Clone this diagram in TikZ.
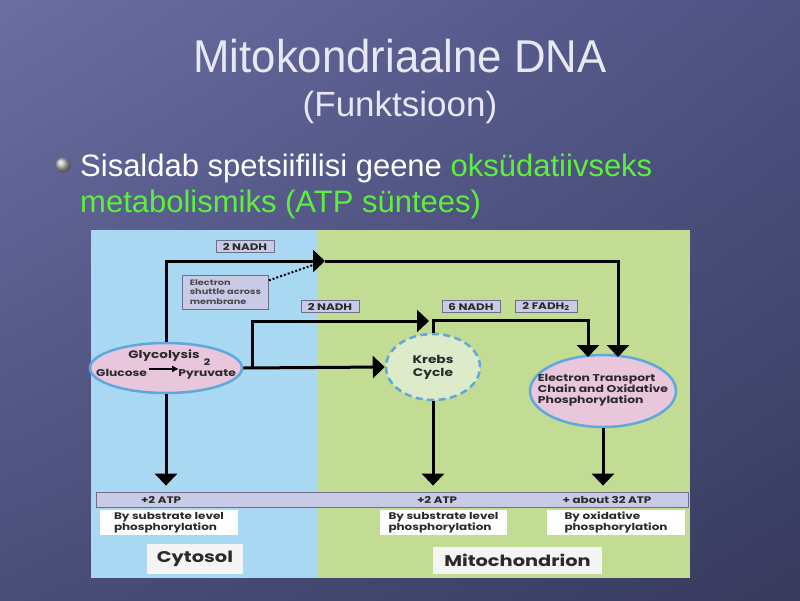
\documentclass[tikz,border=0pt]{standalone}
\usepackage{fontspec}
\setmainfont{Liberation Sans}
\newfontfamily\titlefont[FakeStretch=0.95]{Liberation Sans}
\newfontfamily\diagfont[FakeStretch=1.25]{Poppins}
\usetikzlibrary{arrows.meta, shapes.geometric, shadings}
\usepackage{xcolor}

\definecolor{slidetl}{HTML}{6A6EA2}
\definecolor{slidetr}{HTML}{4E5282}
\definecolor{slidebl}{HTML}{4A4D78}
\definecolor{slidebr}{HTML}{383B5E}
\definecolor{titlecol}{HTML}{E8E8F4}
\definecolor{bulletgreen}{HTML}{5CF03A}
\definecolor{cytoblue}{HTML}{A9D8F2}
\definecolor{mitogreen}{HTML}{C3DC93}
\definecolor{ovalpink}{HTML}{E8C6DC}
\definecolor{ovalline}{HTML}{5FA8DC}
\definecolor{krebsfill}{HTML}{DDEBCB}
\definecolor{labelfill}{HTML}{C9CBE6}
\definecolor{labelline}{HTML}{6E6E8C}
\definecolor{inktext}{HTML}{2A2A2A}

\begin{document}
\begin{tikzpicture}[x=1pt, y=-1pt, every node/.style={inner sep=0pt, text=inktext},
  lbl/.style={draw=labelline, fill=labelfill, line width=0.8pt, minimum width=58, minimum height=12,
    font=\diagfont\bfseries\fontsize{9.5}{10}\selectfont},
  atptext/.style={font=\diagfont\bfseries\fontsize{9.5}{10}\selectfont},
  whitebox/.style={fill=white, minimum height=25, align=left,
    font=\diagfont\bfseries\fontsize{9.6}{11}\selectfont},
  placebox/.style={fill=white!92!gray, font=\diagfont\bfseries\fontsize{15.5}{17}\selectfont},
  oval/.style={ellipse, draw=ovalline, fill=ovalpink, line width=2.5pt},
  line/.style={line width=3pt},
  arr/.style={line width=3pt, -{Triangle[width=22pt,length=12pt]}}]

\useasboundingbox (0,0) rectangle (800,600);
\shade[upper left=slidetl, upper right=slidetr, lower left=slidebl, lower right=slidebr]
  (0,0) rectangle (800,600);

% Title
\node[anchor=base, text=titlecol, font=\titlefont\fontsize{46}{50}\selectfont] (title) at (400,72) {Mitokondriaalne DNA};
\node[anchor=base, text=titlecol, font=\fontsize{35}{40}\selectfont] (subtitle) at (400,116) {(Funktsioon)};

% Bullet text
\shade[ball color=gray!55] (63,165) circle (7.5);
\node[anchor=base west, text=white, font=\fontsize{31}{36}\selectfont] (line1) at (80,176)
  {Sisaldab spetsiifilisi geene \textcolor{bulletgreen}{oksüdatiivseks}};
\node[anchor=base west, text=bulletgreen, font=\fontsize{31}{36}\selectfont] (line2) at (80,212)
  {metabolismiks (ATP süntees)};

% Panels
\fill[cytoblue] (91,230) rectangle (318,578);
\fill[mitogreen] (318,230) rectangle (690,578);

% Glycolysis
\node[oval, minimum width=152, minimum height=50] (glyc) at (166,368) {};
\node[font=\diagfont\bfseries\fontsize{10.8}{12}\selectfont] (glyctitle) at (164,356) {Glycolysis};
\node[anchor=base west, font=\diagfont\bfseries\fontsize{9.8}{11}\selectfont] (glucose) at (96,376) {Glucose};
\node[anchor=base east, font=\diagfont\bfseries\fontsize{9.8}{11}\selectfont] (pyruvate) at (236,376) {Pyruvate};
\node[font=\diagfont\bfseries\fontsize{9}{10}\selectfont] (two) at (207,362) {2};
\draw[line width=1.3pt, -{Triangle[width=6pt,length=6pt]}] (glucose.east) ++(2,-3.5) coordinate (ga) -- (pyruvate.west |- ga);

% Krebs cycle
\node[ellipse, draw=ovalline, fill=krebsfill, line width=2.5pt, dashed, dash pattern=on 7pt off 4.5pt,
  minimum width=94, minimum height=66, align=center,
  font=\diagfont\bfseries\fontsize{11}{13}\selectfont] (krebs) at (433,367) {Krebs\\Cycle};

% Electron transport chain
\node[oval, minimum width=146, minimum height=72] (etc) at (603,391) {};
\node[align=left, font=\diagfont\bfseries\fontsize{9.9}{11.2}\selectfont] (etctext) at (603,390)
  {Electron Transport\\Chain and Oxidative\\Phosphorylation};

% Labels
\node[lbl] (nadh1) at (245,246.5) {2 NADH};
\node[lbl] (nadh2) at (330,306.5) {2 NADH};
\node[lbl] (nadh6) at (471,306.5) {6 NADH};
\node[lbl, minimum width=62] (fadh) at (546,306.5) {2 FADH\textsubscript{2}};
\node[draw=labelline, fill=labelfill, line width=0.8pt, minimum width=86, minimum height=34, align=left,
  inner xsep=6pt, anchor=west, text=inktext!85, font=\diagfont\bfseries\fontsize{7.8}{9.5}\selectfont] (shuttle) at (182,292)
  {Electron\\shuttle across\\membrane};

% Connectors
\coordinate (nadhtip) at (325,261);
\coordinate (etcin1) at (588,357);
\coordinate (etcin2) at (618,357);
\coordinate (branch) at (252,368);
\coordinate (krebsin) at (429,321);
\coordinate (dotend) at (313,265);

\draw[arr] (glyc.north) |- (nadhtip);
\draw[arr] (nadhtip) -| (etcin2);
\draw[line width=2pt, dotted] (shuttle.15) -- (dotend);
\draw[arr] (glyc.east) -- (krebs.west);
\draw[arr] (branch) |- (krebsin);
\draw[arr] (krebs.north) -- ++(0,-12) -| (etcin1);

% ATP bar
\node[draw=labelline, fill=labelfill, line width=0.8pt, minimum width=592, minimum height=15] (atpbar) at (392,499.5) {};
\node[atptext] (atp1) at (161,499.5) {+2 ATP};
\node[atptext] (atp2) at (437,499.5) {+2 ATP};
\node[atptext] (atp3) at (607,499.5) {+ about 32 ATP};

\draw[arr, shorten >=6pt] (glyc.south) -- (glyc.south |- atpbar.north);
\draw[arr, shorten >=6pt] (krebs.south) -- (krebs.south |- atpbar.north);
\draw[arr, shorten >=6pt] (etc.south) -- (etc.south |- atpbar.north);

% Sources of ATP
\node[whitebox, minimum width=138] (sub1) at (169,522.5) {By substrate level\\phosphorylation};
\node[whitebox, minimum width=127] (sub2) at (443.5,522.5) {By substrate level\\phosphorylation};
\node[whitebox, minimum width=138] (oxi) at (616,522.5) {By oxidative\\phosphorylation};

\node[placebox, minimum width=96, minimum height=30] (cytosol) at (195,559) {Cytosol};
\node[placebox, minimum width=169, minimum height=27] (mito) at (517.5,560) {Mitochondrion};

\end{tikzpicture}
\end{document}
